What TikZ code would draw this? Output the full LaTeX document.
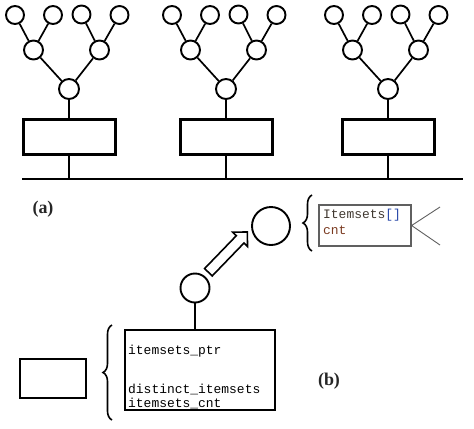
\documentclass[tikz,border=0pt]{standalone}
\usepackage{fontspec}
\setmainfont{Liberation Serif}
\setmonofont{Liberation Mono}
\usetikzlibrary{shapes.arrows,decorations.pathreplacing}
\definecolor{itemc}{HTML}{403830}
\definecolor{brkc}{HTML}{2848A8}
\definecolor{cntc}{HTML}{7A3A20}
\definecolor{boxg}{HTML}{606060}
\begin{document}
\begin{tikzpicture}[x=1bp,y=-1bp,
  tc/.style={circle,draw,line width=1.9bp,minimum size=18bp,inner sep=0pt},
  edge/.style={line width=1.7bp},
  blk/.style={draw,line width=2.3bp,inner sep=0pt},
  lbl/.style={font=\fontsize{18}{20}\selectfont\bfseries,inner sep=0pt,text=black!85},
  code/.style={font=\fontsize{13}{14}\selectfont\ttfamily,anchor=base west,inner sep=0pt},
  brc/.style={decorate,decoration={brace,amplitude=9bp},line width=1.6bp}]
\useasboundingbox (0,0) rectangle (474,428);

% (a) trees
\coordinate (bl) at (22,179);
\coordinate (br) at (463,179);
\draw[line width=2bp] (bl) -- (br);
\foreach \i/\bx in {1/69,2/226,3/388}{
  \node[tc,minimum size=20bp] (r\i) at (\bx,89) {};
  \node[tc,minimum size=19bp] (ma\i) at (\bx-35.5,50) {};
  \node[tc,minimum size=19bp] (mb\i) at (\bx+30.5,50) {};
  \node[tc] (ta\i) at (\bx-54,15) {};
  \node[tc] (tb\i) at (\bx-16,15) {};
  \node[tc] (tc\i) at (\bx+12.5,14.5) {};
  \node[tc] (td\i) at (\bx+50.5,15) {};
  \node[blk,minimum width=92bp,minimum height=35bp] (b\i) at (\bx+0.5,137) {};
  \draw[edge] (ta\i) -- (ma\i);
  \draw[edge] (tb\i) -- (ma\i);
  \draw[edge] (tc\i) -- (mb\i);
  \draw[edge] (td\i) -- (mb\i);
  \draw[edge] (ma\i) -- (r\i);
  \draw[edge] (mb\i) -- (r\i);
  \draw[edge] (r\i) -- (r\i |- b\i.north);
  \draw[edge] (r\i |- b\i.south) -- (r\i |- bl);
}
\node[lbl] (la) at (43,209) {(a)};

% (b)
\node[blk,minimum width=66bp,minimum height=39bp] (sb) at (53,378.5) {};
\coordinate (br1a) at (112,420);
\coordinate (br1b) at (112,325);
\draw[brc] (br1a) -- (br1b);
\node[blk,minimum width=150bp,minimum height=80bp] (bb) at (200,370) {};
\node[code] (c1) at (128,354) {itemsets\_ptr};
\node[code] (c2) at (128,393) {distinct\_itemsets};
\node[code] (c3) at (128,407) {itemsets\_cnt};
\node[tc,minimum size=29bp] (sc) at (195,288) {};
\draw[edge] (sc) -- (sc |- bb.north);
\node[tc,minimum size=38bp] (bc) at (271,226) {};
\node[single arrow,draw,line width=1.6bp,inner xsep=0pt,inner ysep=4.5bp,
      minimum height=56bp,single arrow head extend=5bp,rotate=46] (ar) at (226,254) {};
\coordinate (br2a) at (312,251);
\coordinate (br2b) at (312,195);
\draw[brc] (br2a) -- (br2b);
\node[draw=boxg,line width=1.2bp,minimum width=92bp,minimum height=41bp,inner sep=0pt] (ib) at (365,225.5) {};
\node[code] (i1) at (323,218) {\textcolor{itemc}{Itemsets}\textcolor{brkc}{[]}};
\node[code,text=cntc] (i2) at (323,234) {cnt};
\coordinate (t1) at (440,207);
\coordinate (t2) at (440,245);
\draw[boxg,line width=0.9bp] (t1) -- (ib.east) -- (t2);
\node[lbl] (lb) at (329,381) {(b)};
\end{tikzpicture}
\end{document}
